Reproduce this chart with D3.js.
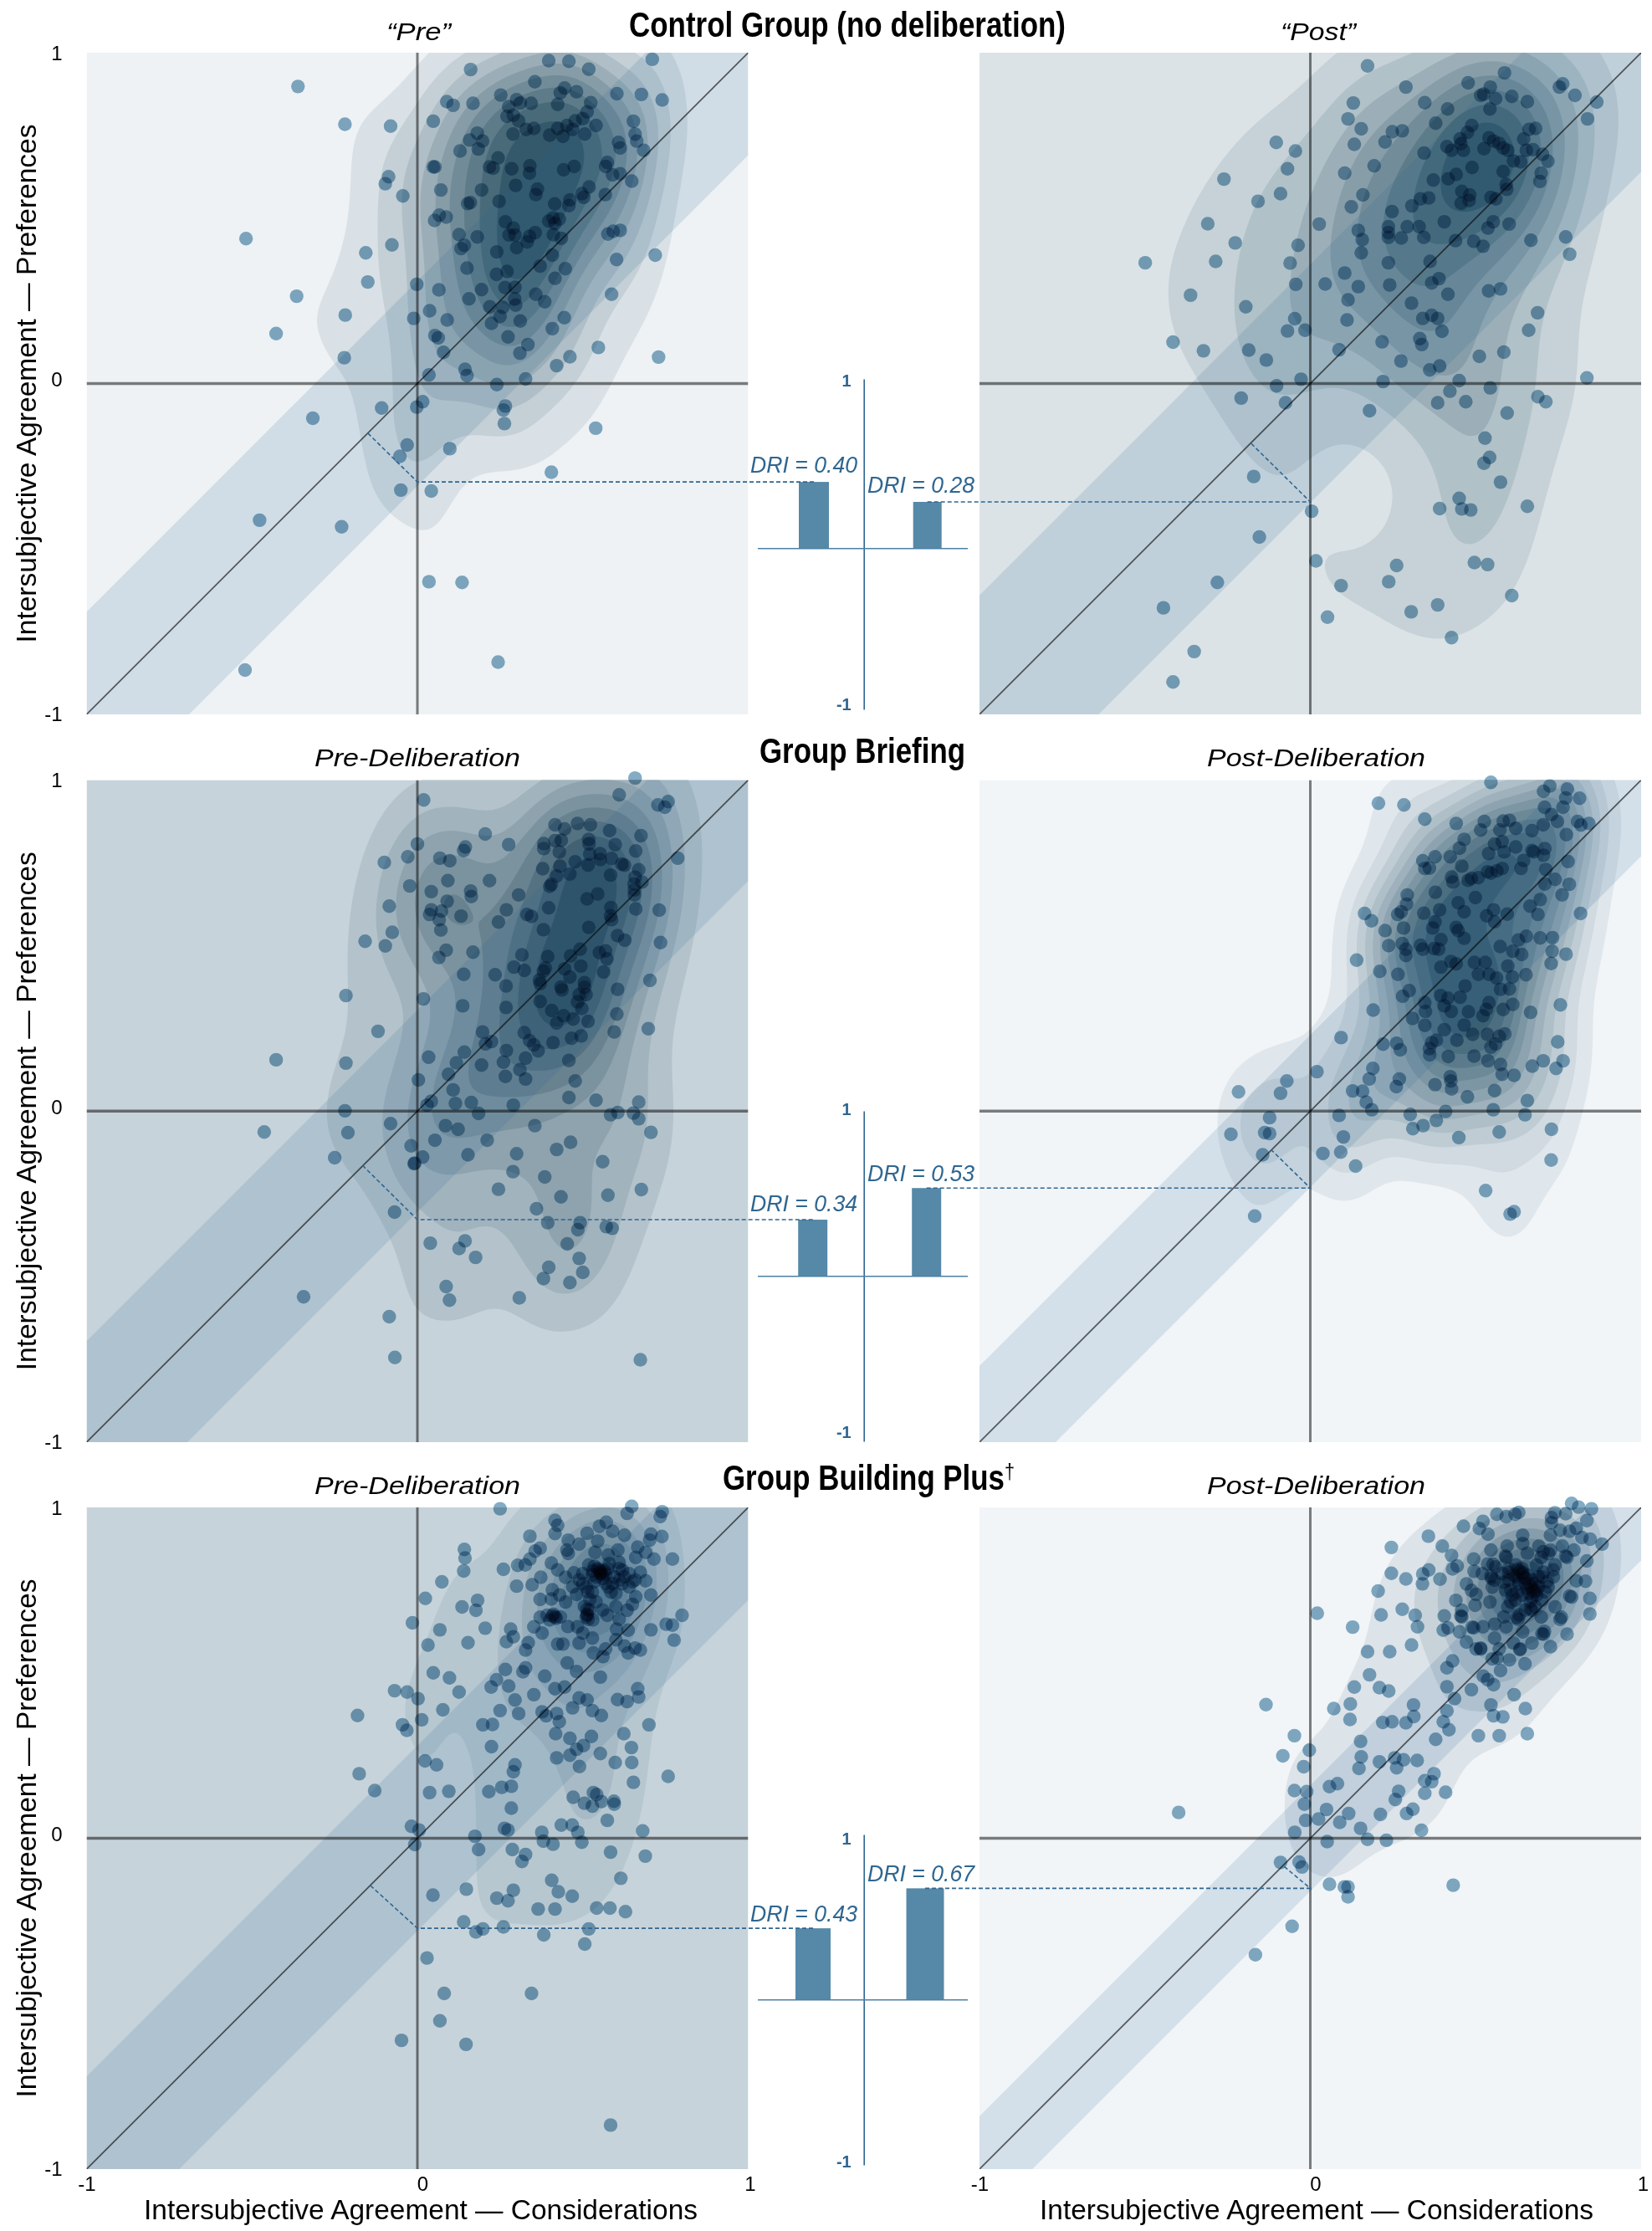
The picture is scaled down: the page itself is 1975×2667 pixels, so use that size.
<!DOCTYPE html>
<html>
<head>
<meta charset="utf-8">
<script src="https://cdn.jsdelivr.net/npm/d3@7"></script>
<style>
body { margin: 0; background: #fff; }
svg { display: block; }
text { font-family: "Liberation Sans", Arial, sans-serif; }
</style>
</head>
<body>
<svg id="chart" width="1975" height="2667"></svg>
<script>
//points, [considerations, preferences]
var controlPre = [[-.361,.898],[-.219,.784],[-.081,.778],[.161,.949],[.397,.976],[.458,.974],[.518,.950],[.710,.980],[.048,.793],[.089,.852],[.108,.841],[.168,.847],[.252,.872],[.355,.912],[.432,.879],[.445,.893],[.481,.882],[.603,.876],[.677,.874],[.740,.857],[.524,.849],[.424,.844],[.300,.858],[.276,.837],[.311,.848],[.344,.847],[.271,.808],[.290,.811],[.306,.794],[.513,.821],[.500,.801],[.477,.794],[.540,.780],[.653,.793],[.658,.754],[.663,.733],[.608,.729],[.613,.712],[.684,.705],[.289,.754],[.329,.768],[.352,.771],[.400,.751],[.424,.771],[.440,.747],[.452,.780],[.469,.768],[.506,.754],[.181,.757],[.158,.736],[.197,.733],[.184,.709],[.129,.703],[.244,.682],[.218,.655],[.229,.651],[.048,.655],[.053,.655],[.285,.649],[.340,.658],[.339,.636],[.442,.646],[.474,.656],[.569,.656],[.574,.668],[.590,.631],[.613,.634],[.648,.612],[-.087,.625],[-.097,.604],[-.044,.567],[.071,.585],[.194,.585],[.297,.599],[.363,.588],[.358,.571],[.519,.594],[.497,.574],[.503,.563],[.568,.571],[.152,.544],[.160,.547],[.247,.551],[.461,.555],[.458,.538],[.415,.543],[.066,.509],[.087,.503],[.052,.493],[.266,.489],[.397,.491],[.410,.501],[.429,.497],[.416,.484],[.126,.450],[.181,.443],[.290,.470],[.277,.449],[.295,.449],[.356,.456],[.339,.445],[.332,.428],[.300,.411],[.411,.450],[.435,.439],[.576,.452],[.592,.460],[.613,.463],[.142,.418],[.132,.408],[.240,.398],[.408,.388],[.719,.388],[.602,.375],[-.077,.419],[-.156,.395],[-.518,.438],[.150,.349],[.239,.330],[.271,.339],[.371,.355],[.447,.347],[.416,.318],[-.150,.307],[-.002,.300],[-.365,.264],[.065,.283],[.194,.284],[.265,.290],[.295,.291],[.156,.256],[.294,.256],[.297,.237],[.358,.270],[.385,.247],[.587,.270],[.219,.232],[.258,.230],[-.218,.207],[.037,.220],[-.011,.197],[.090,.192],[.250,.203],[.224,.182],[.311,.189],[.444,.199],[.408,.166],[-.427,.151],[.053,.145],[.063,.138],[.274,.141],[.334,.118],[.310,.092],[.079,.094],[.547,.109],[-.221,.078],[.729,.080],[.461,.081],[.421,.054],[.144,.043],[.150,.024],[.035,.026],[.327,.014],[.240,-.003],[.016,-.055],[-.002,-.071],[-.108,-.074],[.266,-.068],[.260,-.080],[.263,-.121],[-.316,-.105],[.539,-.135],[-.031,-.186],[-.053,-.220],[.098,-.197],[.405,-.268],[-.050,-.322],[.042,-.325],[-.477,-.413],[-.229,-.433],[.035,-.599],[.135,-.601],[.244,-.842],[-.521,-.866]];

var controlPost = [[.173,.960],[.289,.896],[.477,.909],[.587,.939],[.544,.896],[.515,.871],[.524,.875],[.560,.861],[.543,.830],[.609,.868],[.656,.852],[.763,.906],[.753,.896],[.800,.871],[.866,.851],[.838,.800],[.130,.848],[.114,.800],[.154,.770],[.346,.849],[.415,.830],[.379,.787],[.248,.761],[.278,.764],[.226,.730],[.133,.723],[-.103,.729],[-.045,.703],[-.069,.649],[-.261,.618],[.488,.780],[.475,.759],[.453,.740],[.455,.725],[.413,.716],[.427,.705],[.463,.705],[.540,.743],[.525,.710],[.554,.733],[.571,.726],[.583,.712],[.597,.705],[.645,.739],[.661,.768],[.681,.771],[.653,.705],[.673,.707],[.702,.693],[.718,.672],[.614,.673],[.636,.670],[.344,.697],[.193,.658],[.104,.636],[.489,.653],[.583,.641],[.441,.632],[.417,.619],[.372,.615],[.698,.636],[.694,.611],[.592,.602],[.594,.587],[.458,.581],[-.090,.574],[-.158,.551],[.159,.570],[.124,.534],[.482,.570],[.480,.553],[.456,.545],[.546,.563],[.561,.558],[.333,.558],[.358,.561],[.307,.537],[.247,.520],[-.310,.483],[.027,.482],[.145,.463],[.236,.474],[.236,.456],[.236,.442],[.293,.474],[.329,.474],[.405,.489],[.553,.489],[.537,.470],[.601,.482],[-.227,.425],[-.037,.418],[.157,.435],[.275,.440],[.343,.442],[.439,.432],[.494,.430],[.522,.415],[.667,.433],[.772,.443],[.784,.391],[.154,.395],[-.499,.365],[-.286,.369],[-.061,.364],[.236,.365],[.362,.369],[.104,.334],[-.044,.300],[.045,.301],[.145,.293],[.240,.298],[.367,.304],[.389,.317],[.416,.270],[.539,.280],[.575,.286],[-.362,.267],[.114,.253],[.306,.243],[-.195,.232],[.687,.214],[-.047,.196],[.111,.192],[.340,.197],[.367,.206],[.385,.197],[-.069,.159],[-.016,.161],[.398,.158],[.660,.161],[-.415,.125],[.217,.126],[.331,.136],[.337,.118],[-.323,.099],[-.186,.101],[.087,.102],[.585,.095],[-.133,.071],[.511,.082],[.274,.068],[.391,.053],[.361,.041],[-.028,.013],[.220,.006],[.450,.009],[.836,.017],[-.102,-.007],[.422,-.023],[.544,-.013],[-.209,-.044],[-.075,-.058],[.385,-.058],[.470,-.055],[.688,-.040],[.712,-.055],[.179,-.082],[.595,-.089],[.528,-.165],[.542,-.223],[.525,-.241],[.575,-.298],[-.171,-.281],[.450,-.347],[.458,-.379],[.485,-.382],[.391,-.378],[.656,-.371],[.004,-.386],[-.154,-.464],[.017,-.536],[.496,-.541],[.536,-.547],[.261,-.550],[.237,-.599],[.093,-.611],[-.281,-.601],[.609,-.641],[-.444,-.678],[.385,-.669],[.305,-.690],[.052,-.706],[-.351,-.810],[.427,-.768],[-.415,-.902]];

var briefingPre = [[.658,1.006],[.610,.955],[.019,.940],[.727,.925],[.748,.918],[.758,.935],[.205,.837],[.276,.805],[.416,.865],[.445,.852],[.484,.869],[.523,.865],[.581,.847],[.676,.832],[.382,.808],[.416,.817],[.435,.818],[.382,.793],[.429,.783],[.518,.821],[.519,.807],[.598,.805],[.660,.786],[0,.807],[-.029,.768],[-.100,.751],[.068,.764],[.098,.756],[.145,.798],[.140,.787],[.521,.776],[.552,.778],[.553,.760],[.587,.763],[.618,.746],[.626,.743],[.477,.753],[.516,.743],[.431,.740],[.379,.732],[.669,.729],[.787,.764],[.421,.710],[.461,.716],[.584,.713],[.658,.707],[.679,.692],[.655,.686],[.656,.668],[.656,.653],[.218,.696],[.092,.696],[-.023,.680],[.042,.663],[.405,.685],[.400,.679],[.161,.665],[.163,.648],[.306,.653],[.545,.656],[.513,.641],[.090,.634],[-.085,.619],[.042,.608],[.037,.594],[.073,.604],[.066,.578],[.132,.589],[.269,.608],[.245,.571],[.331,.594],[.345,.588],[.397,.614],[.585,.615],[.584,.590],[.587,.578],[.660,.611],[.731,.607],[.071,.547],[-.076,.540],[.381,.548],[.518,.555],[-.158,.513],[-.097,.499],[.605,.530],[.627,.516],[.735,.509],[.087,.486],[.065,.464],[.168,.480],[.316,.472],[.394,.467],[.492,.489],[.463,.469],[.550,.479],[.569,.484],[.573,.460],[.140,.413],[.235,.412],[.292,.435],[.323,.425],[.387,.432],[.381,.423],[.445,.430],[.494,.438],[.563,.420],[.369,.396],[.371,.385],[.461,.405],[.703,.395],[.268,.378],[.434,.375],[.437,.366],[.505,.388],[.505,.374],[.605,.368],[-.216,.349],[.018,.339],[.510,.352],[.489,.352],[.484,.330],[.371,.331],[.137,.318],[.268,.313],[.406,.304],[.497,.310],[.442,.288],[.603,.293],[.471,.278],[.516,.271],[.421,.266],[-.119,.241],[.323,.237],[.197,.239],[.698,.249],[.595,.239],[.495,.227],[.466,.220],[.224,.210],[.206,.203],[.339,.213],[.352,.200],[.365,.182],[.410,.207],[.269,.183],[.142,.178],[.034,.163],[-.427,.155],[-.216,.145],[.327,.160],[.118,.146],[.260,.148],[.458,.153],[.194,.139],[.310,.125],[.094,.111],[.266,.105],[.327,.097],[.003,.094],[.477,.091],[.108,.064],[.458,.041],[.540,.033],[.042,.030],[.029,.018],[.115,.023],[.163,.026],[.290,.018],[.669,.027],[-.219,.001],[.185,-.007],[.584,-.011],[.606,-.004],[.653,-.006],[.669,-.023],[-.081,-.038],[.085,-.044],[.123,-.055],[.355,-.044],[-.463,-.063],[-.210,-.065],[.706,-.064],[.053,-.088],[.211,-.088],[.463,-.094],[.421,-.116],[-.019,-.105],[.016,-.139],[.153,-.132],[.300,-.129],[-.250,-.141],[-.010,-.159],[-.008,-.157],[.560,-.153],[.289,-.183],[.385,-.199],[.245,-.236],[.434,-.259],[.576,-.254],[.677,-.237],[.360,-.295],[-.069,-.305],[.394,-.337],[.492,-.337],[.485,-.358],[.571,-.349],[.589,-.354],[.144,-.392],[.039,-.399],[.126,-.415],[.176,-.442],[.453,-.401],[.489,-.445],[.397,-.472],[.500,-.487],[.381,-.506],[.461,-.518],[.087,-.530],[.097,-.571],[.308,-.564],[-.344,-.561],[-.085,-.621],[-.068,-.744],[.674,-.751]];

var briefingPost = [[.546,.993],[.724,.982],[.705,.966],[.777,.973],[.814,.945],[.772,.946],[.764,.918],[.206,.930],[.283,.925],[.708,.918],[.729,.896],[.346,.882],[.441,.869],[.526,.875],[.583,.876],[.602,.878],[.747,.875],[.704,.865],[.808,.875],[.818,.864],[.842,.869],[.515,.849],[.573,.849],[.621,.854],[.670,.847],[.774,.835],[.465,.821],[.580,.814],[.557,.807],[.621,.798],[.709,.793],[.451,.794],[.586,.783],[.670,.787],[.675,.783],[.377,.768],[.340,.756],[.423,.768],[.539,.778],[.705,.773],[.779,.754],[.645,.757],[.458,.740],[.360,.734],[.346,.733],[.637,.733],[.712,.730],[.536,.723],[.546,.719],[.564,.726],[.580,.733],[.427,.707],[.487,.703],[.477,.697],[.508,.705],[.740,.700],[.709,.686],[.431,.692],[.783,.685],[.378,.661],[.293,.653],[.499,.645],[.761,.653],[.695,.639],[.291,.625],[.447,.629],[.391,.608],[.664,.619],[.554,.608],[.465,.602],[.275,.602],[.264,.594],[.343,.598],[.164,.597],[.817,.597],[.533,.590],[.595,.595],[.688,.594],[.185,.575],[.377,.572],[.557,.572],[.370,.553],[.282,.553],[.226,.545],[.441,.555],[.447,.545],[.653,.528],[.695,.523],[.732,.524],[.629,.517],[.395,.518],[.278,.506],[.237,.500],[.333,.501],[.574,.497],[.374,.491],[.465,.522],[.340,.489],[.388,.489],[.289,.489],[.289,.470],[.612,.483],[.731,.483],[.773,.474],[.639,.473],[.140,.456],[.425,.452],[.441,.445],[.496,.449],[.529,.449],[.728,.446],[.395,.435],[.597,.438],[.210,.422],[.265,.413],[.508,.413],[.540,.413],[.652,.412],[.563,.402],[.611,.405],[.468,.378],[.299,.364],[.575,.368],[.602,.369],[.279,.347],[.394,.349],[.416,.341],[.453,.344],[.346,.328],[.540,.328],[.612,.322],[.756,.321],[.190,.305],[.405,.318],[.348,.301],[.426,.301],[.532,.307],[.583,.307],[.478,.300],[.666,.298],[.522,.288],[.309,.280],[.346,.259],[.465,.260],[.405,.246],[.093,.222],[.491,.232],[.535,.232],[.588,.233],[.571,.226],[.443,.214],[.381,.214],[.367,.207],[.748,.209],[.220,.202],[.261,.205],[.272,.185],[.560,.203],[.546,.193],[.360,.189],[.361,.170],[.417,.165],[.495,.166],[.537,.152],[.704,.152],[.764,.152],[.671,.136],[.575,.141],[.189,.129],[.743,.129],[.020,.119],[.580,.111],[.616,.108],[.423,.104],[.425,.091],[.427,.067],[.269,.097],[.178,.097],[-.071,.091],[.377,.080],[.260,.074],[.128,.061],[.158,.060],[-.217,.058],[-.090,.054],[.557,.062],[.475,.043],[.656,.032],[.169,.027],[.186,.004],[.409,-.001],[.553,.004],[.087,-.013],[.302,-.010],[.649,-.011],[-.123,-.020],[.381,-.028],[.341,-.044],[.310,-.053],[.729,-.055],[-.138,-.065],[-.123,-.068],[-.240,-.070],[.571,-.063],[.100,-.078],[.449,-.080],[.038,-.128],[.092,-.124],[-.144,-.132],[.137,-.166],[.728,-.148],[.530,-.240],[.616,-.304],[.604,-.311],[-.168,-.317]];

var buildingPre = [[.250,.996],[.648,1.003],[.634,.982],[.740,.987],[.734,.972],[.416,.961],[.424,.946],[.416,.921],[.550,.943],[.571,.955],[.590,.928],[.706,.919],[.739,.912],[.702,.901],[.340,.913],[.626,.916],[.456,.901],[.513,.922],[.489,.889],[.545,.898],[.142,.873],[.144,.847],[.140,.808],[.371,.877],[.356,.868],[.452,.871],[.537,.864],[.606,.871],[.666,.880],[.690,.864],[.340,.844],[.456,.861],[.577,.856],[.771,.844],[.715,.844],[.660,.849],[.303,.825],[.326,.826],[.260,.813],[.405,.832],[.518,.826],[.610,.834],[.424,.811],[.553,.808],[.529,.796],[.569,.799],[.674,.804],[.473,.802],[.448,.789],[.373,.789],[.074,.775],[.489,.781],[.618,.769],[.658,.781],[.690,.778],[.300,.762],[.347,.766],[.511,.759],[.577,.759],[.408,.751],[.481,.737],[.529,.744],[.585,.744],[.706,.735],[.024,.725],[.371,.722],[.405,.723],[.448,.714],[.521,.722],[.182,.719],[.650,.707],[.135,.699],[.177,.689],[.513,.692],[.634,.689],[.411,.677],[.392,.674],[.432,.669],[.371,.668],[.513,.674],[.516,.662],[.574,.674],[.800,.674],[.610,.662],[-.015,.651],[.752,.647],[.771,.644],[.352,.639],[.484,.639],[.205,.635],[.282,.632],[.068,.630],[.706,.630],[.602,.632],[.637,.629],[.377,.620],[.290,.609],[.529,.605],[.269,.594],[.153,.591],[.776,.599],[.032,.584],[.335,.591],[.424,.587],[.440,.587],[.489,.590],[.626,.581],[.658,.575],[.327,.569],[.674,.569],[.569,.572],[.532,.560],[.561,.549],[.637,.560],[.453,.530],[.266,.510],[.327,.515],[.319,.503],[.481,.504],[.048,.500],[.097,.485],[.553,.487],[.385,.490],[.126,.442],[.223,.457],[.239,.479],[.276,.460],[.445,.457],[.416,.452],[-.069,.446],[-.031,.442],[.002,.422],[.352,.434],[.666,.452],[.489,.424],[.669,.427],[.605,.419],[.634,.413],[.295,.418],[.513,.418],[.469,.394],[.250,.386],[.529,.386],[.077,.388],[.306,.377],[-.181,.371],[.556,.371],[.377,.382],[.421,.377],[.389,.370],[.429,.352],[.013,.358],[.198,.343],[.227,.344],[-.045,.343],[-.032,.326],[.700,.343],[.418,.316],[.624,.316],[.526,.308],[.461,.302],[.224,.277],[.647,.274],[.481,.269],[.502,.280],[.553,.256],[.421,.243],[.461,.251],[.023,.234],[.058,.222],[.648,.229],[.598,.229],[.295,.222],[.290,.201],[.490,.217],[-.176,.195],[.758,.187],[.653,.169],[-.129,.144],[.037,.138],[.095,.142],[.255,.154],[.284,.157],[.216,.141],[.471,.124],[.532,.138],[.542,.132],[.505,.106],[.556,.111],[.594,.112],[.595,.103],[.529,.097],[.284,.091],[.574,.054],[.435,.040],[.468,.040],[-.018,.036],[.005,.025],[.263,.030],[.274,.025],[.681,.022],[.376,.018],[.485,.018],[.174,.006],[.381,-.009],[.410,-.018],[.497,-.012],[-.008,-.019],[.185,-.034],[.287,-.034],[.584,-.042],[.689,-.054],[.327,-.049],[.316,-.070],[.406,-.127],[.615,-.121],[.148,-.154],[.290,-.157],[.426,-.162],[.047,-.172],[.468,-.175],[.240,-.181],[.274,-.189],[.365,-.214],[.416,-.214],[.542,-.211],[.582,-.211],[.629,-.222],[.140,-.253],[.260,-.268],[.198,-.274],[.177,-.283],[.518,-.274],[.382,-.292],[.506,-.320],[.029,-.362],[.081,-.469],[.345,-.469],[.068,-.552],[-.048,-.611],[.147,-.623],[.584,-.867],[.540,.790],[.552,.800],[.560,.785],[.535,.775],[.570,.770],[.545,.815],[.595,.790],[.620,.810],[.640,.760],[.500,.800],[.470,.760],[.540,.715],[.600,.700],[.560,.690],[.530,.660],[.430,.735],[.455,.640],[.660,.730],[.600,.600],[.500,.620],[.553,.804],[.556,.800],[.548,.812],[.560,.795],[.565,.808],[.575,.815],[.530,.808],[.535,.822],[.416,.669],[.420,.665],[.408,.672],[.400,.660],[.513,.677],[.510,.668],[.520,.690],[.505,.700],[.590,.770],[.610,.780],[.625,.790],[.640,.800],[.650,.775],[.600,.740],[.515,.745],[.500,.770],[.580,.830],[.610,.815]];

var buildingPost = [[.790,1.012],[.811,1.001],[.850,.996],[.739,.984],[.772,.981],[.564,.979],[.592,.972],[.619,.979],[.630,.985],[.729,.969],[.522,.958],[.729,.954],[.836,.960],[.463,.943],[.511,.936],[.755,.931],[.784,.928],[.804,.937],[.537,.919],[.642,.916],[.726,.916],[.357,.913],[.399,.883],[.245,.879],[.595,.883],[.642,.891],[.846,.904],[.821,.909],[.882,.889],[.762,.883],[.691,.883],[.546,.871],[.726,.871],[.797,.871],[.427,.855],[.494,.844],[.592,.849],[.656,.862],[.698,.849],[.776,.849],[.836,.838],[.444,.823],[.536,.829],[.621,.826],[.684,.826],[.740,.826],[.358,.811],[.430,.814],[.495,.807],[.245,.801],[.340,.799],[.289,.784],[.546,.793],[.599,.804],[.642,.804],[.705,.804],[.339,.769],[.392,.783],[.472,.769],[.628,.784],[.670,.781],[.585,.774],[.804,.778],[.832,.777],[.205,.747],[.487,.749],[.550,.759],[.606,.751],[.677,.751],[.719,.759],[.501,.737],[.670,.729],[.790,.729],[.845,.725],[.440,.719],[.543,.714],[.606,.714],[.498,.704],[.278,.692],[.458,.689],[.670,.689],[.740,.699],[.214,.675],[.317,.674],[.405,.672],[.458,.669],[.585,.669],[.628,.662],[.698,.669],[.755,.662],[.845,.678],[.021,.680],[.128,.638],[.324,.639],[.416,.636],[.494,.636],[.522,.639],[.557,.647],[.592,.639],[.402,.629],[.451,.624],[.642,.624],[.705,.617],[.776,.617],[.472,.593],[.557,.605],[.614,.590],[.670,.590],[.726,.579],[.306,.584],[.240,.564],[.173,.564],[.501,.572],[.515,.572],[.571,.572],[.635,.572],[.550,.542],[.430,.536],[.602,.539],[.649,.527],[.413,.515],[.575,.507],[.179,.494],[.523,.490],[.536,.479],[.554,.464],[.133,.457],[.209,.455],[.413,.458],[.487,.449],[.237,.445],[.616,.434],[.436,.422],[-.134,.404],[.121,.406],[.312,.403],[.546,.403],[.071,.392],[.650,.392],[.413,.385],[.554,.370],[.582,.367],[.313,.368],[.120,.359],[.219,.350],[.247,.352],[.289,.349],[.402,.352],[.419,.328],[-.048,.310],[.508,.310],[.571,.310],[.656,.316],[.379,.299],[.152,.293],[-.003,.266],[-.083,.249],[.154,.246],[.255,.243],[.209,.231],[.282,.237],[.323,.235],[.147,.211],[.261,.213],[-.020,.216],[.374,.195],[.082,.165],[.058,.156],[.346,.174],[.367,.171],[-.048,.144],[-.011,.141],[.267,.142],[.346,.136],[.409,.139],[.257,.117],[-.018,.103],[.049,.087],[.310,.088],[-.398,.078],[.116,.075],[.212,.072],[.291,.075],[-.014,.054],[.025,.058],[.089,.048],[.152,.030],[.336,.024],[-.047,.018],[.051,-.010],[.173,-.003],[.230,-.006],[-.090,-.073],[-.034,-.072],[-.025,-.087],[.058,-.139],[.103,-.147],[.114,-.177],[.114,-.147],[.432,-.142],[-.055,-.266],[-.166,-.352],[.640,.800],[.650,.785],[.660,.770],[.655,.755],[.675,.745],[.685,.735],[.665,.715],[.630,.770],[.615,.795],[.700,.790],[.715,.775],[.735,.790],[.620,.720],[.640,.735],[.600,.780],[.580,.800],[.560,.820],[.520,.800],[.680,.700],[.650,.690],[.700,.720],[.625,.745],[.590,.750],[.660,.795],[.690,.760],[.633,.807],[.628,.812],[.640,.815],[.666,.761],[.670,.755],[.683,.748],[.553,.828],[.548,.786],[.556,.780],[.590,.853],[.704,.866],[.720,.860],[.772,.853],[.624,.668],[.632,.675],[.759,.668],[.700,.618],[.708,.625],[.633,.570],[.565,.545],[.489,.638],[.515,.575],[.455,.672],[.784,.732],[.734,.811],[.611,.735],[.597,.700],[.666,.694],[.650,.770],[.645,.790],[.680,.770],[.660,.740],[.620,.790],[.600,.815],[.690,.790],[.710,.745]];

var panelPoints = [controlPre, controlPost, briefingPre, briefingPost, buildingPre, buildingPost];
var panelTitles = ["“Pre”", "“Post”", "Pre-Deliberation", "Post-Deliberation", "Pre-Deliberation", "Post-Deliberation"];
var groupTitles = ["Control Group (no deliberation)", "Group Briefing", "Group Building Plus"];
var driValues = [0.40, 0.28, 0.34, 0.53, 0.43, 0.67];
var bandHalf = [0.31, 0.36, 0.305, 0.23, 0.28, 0.16];
var tickValues = [-1, 0, 1];

//look of each panel, lowest density level is the panel background
var panelBg = ["#eef2f5", "#dbe3e7", "#c7d3da", "#f1f5f8", "#c7d3da", "#f1f5f8"];
var peakColors = ["#33596a", "#33596a", "#2f5264", "#3a6074", "#5a7d92", "#47687c"];
var levelCount = [10, 9, 9, 12, 8, 9];
var bwFactor = [0.92, 0.92, 0.92, 0.92, 0.9, 0.95];

var rows = [
    {top: 63, bottom: 854, titleX: 752, titleW: 522, titleY: 44, subY: 47.7, barBase: 655.7, axisTop: 453, axisBottom: 848, tickY: [848, 461.7], barW: [36, 34], barC: [973, 1108.7], labelY: [565, 589]},
    {top: 932.5, bottom: 1724, titleX: 908, titleW: 246, titleY: 912, subY: 916, barBase: 1525.7, axisTop: 1328, axisBottom: 1723, tickY: [1718, 1332], barW: [35, 35], barC: [971.7, 1107.7], labelY: [1448, 1412]},
    {top: 1802, bottom: 2593, titleX: 864, titleW: 349, titleY: 1781, subY: 1786, barBase: 2390.7, axisTop: 2193, axisBottom: 2588, tickY: [2590.7, 2204], barW: [42, 45], barC: [972, 1106], labelY: [2296.7, 2249]}
];
var cols = [{left: 103.5, right: 894.5}, {left: 1171, right: 1962}];
var subSpan = [[462, 77], [1531, 90], [376, 246], [1443, 261], [376, 246], [1443, 261]];
var blue = "#2f6690";

var svg = d3.select("#chart");

//gaussian kde on a grid, scott bandwidth per dimension
function kdeGrid(points, n, factor) {
    function bw(vals) {
        var s = vals.slice().sort(d3.ascending);
        var iqr = d3.quantile(s, 0.75) - d3.quantile(s, 0.25);
        return factor * 1.059 * Math.min(d3.deviation(s), iqr / 1.34) * Math.pow(s.length, -1 / 6);
    }
    var bx = bw(points.map(d => d[0])), by = bw(points.map(d => d[1]));
    var grid = new Float64Array(n * n);
    var step = 2 / (n - 1);
    points.forEach(function(p) {
        var gx = new Float64Array(n), gy = new Float64Array(n);
        for (var i = 0; i < n; i++) {
            gx[i] = Math.exp(-0.5 * Math.pow((-1 + i * step - p[0]) / bx, 2));
            gy[i] = Math.exp(-0.5 * Math.pow((1 - i * step - p[1]) / by, 2));
        }
        for (var j = 0; j < n; j++) {
            for (var k = 0; k < n; k++) grid[j * n + k] += gy[j] * gx[k];
        }
    });
    return grid;
}

panelPoints.forEach(function(points, idx) {
    var rowI = Math.floor(idx / 2), colI = idx % 2;
    var row = rows[rowI], col = cols[colI];
    var x = d3.scaleLinear().domain([-1, 1]).range([col.left, col.right]);
    var y = d3.scaleLinear().domain([-1, 1]).range([row.bottom, row.top]);

    var clipId = "clip" + idx;
    svg.append("clipPath").attr("id", clipId).append("rect")
        .attr("x", col.left).attr("y", row.top)
        .attr("width", col.right - col.left).attr("height", row.bottom - row.top);

    var g = svg.append("g");
    var inner = g.append("g").attr("clip-path", "url(#" + clipId + ")");

    //background
    inner.append("rect")
        .attr("x", col.left).attr("y", row.top)
        .attr("width", col.right - col.left).attr("height", row.bottom - row.top)
        .attr("fill", panelBg[idx]);

    //density contours
    var n = 160;
    var grid = kdeGrid(points, n, bwFactor[idx]);
    var zMax = d3.max(grid);
    var levels = d3.range(1, levelCount[idx]).map(i => zMax * i / levelCount[idx]);
    var contours = d3.contours().size([n, n]).thresholds(levels)(grid);
    var step = 2 / (n - 1);
    var path = d3.geoPath(d3.geoTransform({
        point: function(px, py) {
            this.stream.point(x(-1 + (px - 0.5) * step), y(1 - (py - 0.5) * step));
        }
    }));
    var color = d3.interpolateRgb(panelBg[idx], peakColors[idx]);
    inner.selectAll(".level").data(contours).enter().append("path")
        .attr("class", "level")
        .attr("d", path)
        .attr("fill", (d, i) => color((i + 1) / (levelCount[idx] - 1)));

    //agreement band around the diagonal
    var band = d3.area()
        .x(d => x(d))
        .y0(d => y(d - bandHalf[idx]))
        .y1(d => y(d + bandHalf[idx]));
    inner.append("path").attr("d", band([-1, 1]))
        .attr("fill", "rgb(38,102,145)").attr("fill-opacity", 0.15);

    //zero lines and diagonal
    inner.append("line").attr("x1", x(-1)).attr("x2", x(1)).attr("y1", y(0)).attr("y2", y(0))
        .attr("stroke", "#000").attr("stroke-opacity", 0.5).attr("stroke-width", 3.5);
    inner.append("line").attr("x1", x(0)).attr("x2", x(0)).attr("y1", y(-1)).attr("y2", y(1))
        .attr("stroke", "#000").attr("stroke-opacity", 0.5).attr("stroke-width", 3);
    inner.append("line").attr("x1", x(-1)).attr("x2", x(1)).attr("y1", y(-1)).attr("y2", y(1))
        .attr("stroke", "#000").attr("stroke-opacity", 0.6).attr("stroke-width", 1.8);

    //points, not clipped
    g.selectAll(".dot").data(points).enter().append("circle")
        .attr("class", "dot")
        .attr("cx", d => x(d[0])).attr("cy", d => y(d[1])).attr("r", 8.2)
        .attr("fill", "rgb(132,172,196)")
        .style("mix-blend-mode", "multiply");

    //title above the panel
    svg.append("text")
        .attr("x", subSpan[idx][0]).attr("y", row.subY)
        .attr("textLength", subSpan[idx][1]).attr("lengthAdjust", "spacingAndGlyphs")
        .attr("font-size", 29).attr("font-style", "italic").attr("fill", "#000")
        .text(panelTitles[idx]);

    //y axis labels only on the left column
    if (colI == 0) {
        var yAxis = svg.append("g")
            .attr("transform", "translate(" + col.left + ",0)")
            .call(d3.axisLeft(y).tickValues(tickValues).tickSize(0).tickPadding(29).tickFormat(String));
        yAxis.select(".domain").remove();
        yAxis.selectAll("text")
            .attr("font-family", "Liberation Sans").attr("font-size", 24).attr("fill", "#000")
            .attr("dy", d => d == 0 ? 3 : (d == 1 ? 8 : 7));
        svg.append("text")
            .attr("transform", "translate(43," + (row.top + row.bottom) / 2 + ") rotate(-90)")
            .attr("x", -310).attr("y", 0)
            .attr("textLength", 620).attr("lengthAdjust", "spacingAndGlyphs")
            .attr("font-size", 33)
            .text("Intersubjective Agreement — Preferences");
    }

    //x axis only on last row
    if (rowI == 2) {
        var xAxis = svg.append("g")
            .attr("transform", "translate(0," + row.bottom + ")")
            .call(d3.axisBottom(x).tickValues(tickValues).tickSize(0).tickPadding(9).tickFormat(String));
        xAxis.select(".domain").remove();
        xAxis.selectAll("text")
            .attr("font-family", "Liberation Sans").attr("font-size", 24).attr("fill", "#000")
            .attr("dx", d => d == 0 ? 6 : (d == 1 ? 2 : 0));
        svg.append("text")
            .attr("x", colI == 0 ? 172 : 1243).attr("y", 2653)
            .attr("textLength", 662).attr("lengthAdjust", "spacingAndGlyphs")
            .attr("font-size", 33)
            .text("Intersubjective Agreement — Considerations");
    }

    //dri bar in the middle
    var barY = d3.scaleLinear().domain([-1, 1]).range([row.barBase + 199, row.barBase - 199]);
    var dri = driValues[idx];
    var barC = row.barC[colI], barW = row.barW[colI];
    svg.append("rect")
        .attr("x", barC - barW / 2).attr("y", barY(dri))
        .attr("width", barW).attr("height", barY(0) - barY(dri))
        .attr("fill", "#5688a8");

    //dashed link from bar to the panel, then to the diagonal
    var gap = (dri - 1) / 2;
    svg.append("path")
        .attr("d", "M" + barC + "," + barY(dri) + "L" + x(0) + "," + barY(dri) + "L" + x(gap / 2) + "," + y(gap / 2))
        .attr("fill", "none").attr("stroke", blue).attr("stroke-width", 1.6).attr("stroke-dasharray", "5,3");

    svg.append("text")
        .attr("x", colI == 0 ? 897 : 1037).attr("y", row.labelY[colI])
        .attr("textLength", 128).attr("lengthAdjust", "spacingAndGlyphs")
        .attr("font-size", 27).attr("font-style", "italic").attr("fill", blue)
        .text("DRI = " + dri.toFixed(2));
});

//middle axes and group titles
rows.forEach(function(row, i) {
    var axisY = d3.scaleLinear().domain([-1, 1]).range([row.axisBottom, row.axisTop]);
    var ax = svg.append("g")
        .attr("transform", "translate(1032.7,0)")
        .call(d3.axisLeft(axisY).tickValues([-1, 1]).tickSize(0).tickPadding(15).tickFormat(String));
    ax.select(".domain").attr("stroke", blue).attr("stroke-width", 1.6);
    ax.selectAll("text")
        .attr("font-family", "Liberation Sans").attr("font-size", 20).attr("font-weight", "bold").attr("fill", blue)
        .attr("dy", d => (d == 1 ? row.tickY[1] - row.axisTop : row.tickY[0] - row.axisBottom));

    svg.append("line")
        .attr("x1", 906).attr("x2", 1157).attr("y1", row.barBase).attr("y2", row.barBase)
        .attr("stroke", "#4d80a3").attr("stroke-width", 1.6);

    var title = svg.append("text")
        .attr("x", row.titleX).attr("y", row.titleY)
        .attr("textLength", row.titleW).attr("lengthAdjust", "spacingAndGlyphs")
        .attr("font-size", 42).attr("font-weight", "bold").attr("fill", "#000")
        .text(groupTitles[i]);
    //the dagger on the last group
    if (i == 2) title.append("tspan").attr("dy", -13).attr("font-size", 26).attr("font-weight", "normal").text("†");
});
</script>
</body>
</html>
